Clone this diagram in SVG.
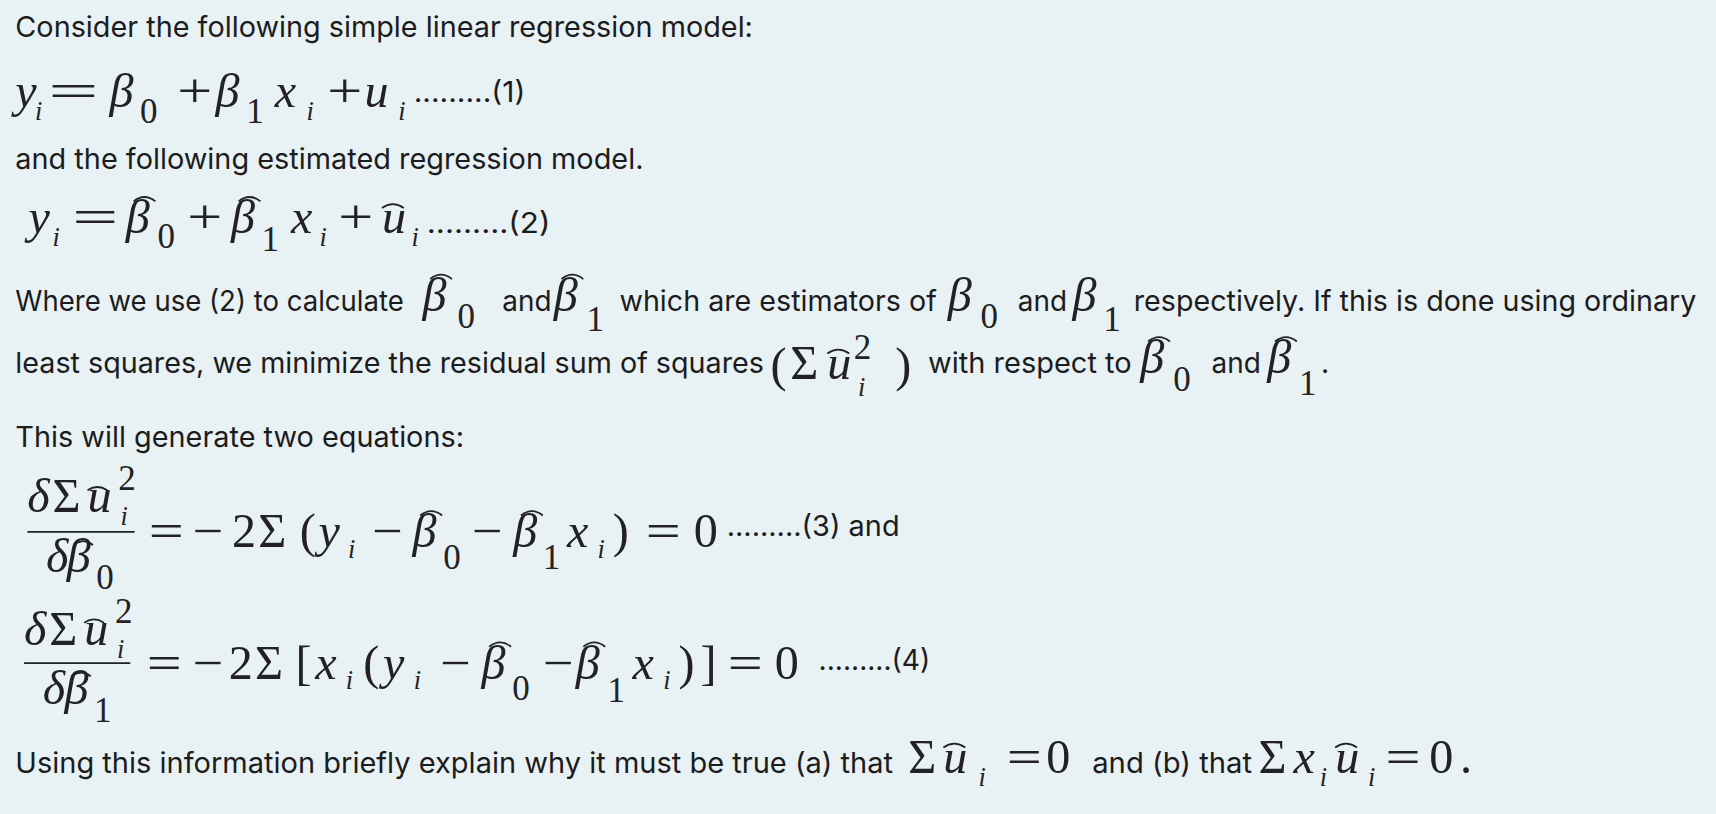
<svg xmlns="http://www.w3.org/2000/svg" width="1716" height="814" viewBox="0 0 1716 814">
<style>
.t{font-family:Inter,"Noto Sans",sans-serif;font-size:26px;fill:#1c1c1c}
.m{font-family:"Liberation Serif","DejaVu Serif",serif;font-size:44px;fill:#222;font-style:italic}
.n{font-family:"Liberation Serif","DejaVu Serif",serif;font-size:44px;fill:#222}
.s{font-family:"Liberation Serif","DejaVu Serif",serif;font-size:32px;fill:#222}
.si{font-family:"Liberation Serif","DejaVu Serif",serif;font-size:24px;fill:#222;font-style:italic}
.h{fill:none;stroke:#222;stroke-width:1.6}
</style>
<rect width="1716" height="814" fill="#e8f1f4"/>
<g transform="scale(1.0944)">
<g id="line1"><text class="t" x="14" y="34" textLength="674" lengthAdjust="spacingAndGlyphs">Consider the following simple linear regression model:</text></g>
<g id="eq1">
<text class="m" x="14" y="98">y</text><text class="si" x="32" y="110">i</text>
<text class="n" x="44" y="98" textLength="46" lengthAdjust="spacingAndGlyphs">=</text>
<text class="m" x="100" y="98">β</text><text class="s" x="128" y="112">0</text>
<text class="n" x="162" y="98" textLength="32" lengthAdjust="spacingAndGlyphs">+</text>
<text class="m" x="197" y="98">β</text><text class="s" x="225" y="112">1</text>
<text class="m" x="251" y="98">x</text><text class="si" x="280" y="110">i</text>
<text class="n" x="299" y="98" textLength="32" lengthAdjust="spacingAndGlyphs">+</text>
<text class="m" x="333" y="98">u</text><text class="si" x="364" y="110">i</text>
<text class="t" x="378" y="93" font-size="24" textLength="102" lengthAdjust="spacingAndGlyphs">.........(1)</text>
</g>
<g id="line3"><text class="t" x="14" y="154" textLength="574" lengthAdjust="spacingAndGlyphs">and the following estimated regression model.</text></g>
<g id="eq2">
<text class="m" x="26" y="213">y</text><text class="si" x="48" y="225">i</text>
<text class="n" x="66" y="213" textLength="42" lengthAdjust="spacingAndGlyphs">=</text>
<text class="m" x="115" y="213">β</text><path class="h" d="M122 184 q10 -8 20 0"/><text class="s" x="144" y="227">0</text>
<text class="n" x="171" y="213" textLength="32" lengthAdjust="spacingAndGlyphs">+</text>
<text class="m" x="211" y="213">β</text><path class="h" d="M218 184 q10 -8 20 0"/><text class="s" x="239" y="229">1</text>
<text class="m" x="266" y="213">x</text><text class="si" x="292" y="225">i</text>
<text class="n" x="309" y="213" textLength="32" lengthAdjust="spacingAndGlyphs">+</text>
<text class="m" x="349" y="213">u</text><path class="h" d="M349 190 q10 -7 20 0"/><text class="si" x="376" y="225">i</text>
<text class="t" x="390" y="213" font-size="24" textLength="113" lengthAdjust="spacingAndGlyphs">.........(2)</text>
</g>
<g id="line5">
<text class="t" x="14" y="284" textLength="355" lengthAdjust="spacingAndGlyphs">Where we use (2) to calculate</text>
<text class="m" x="386" y="284">β</text><path class="h" d="M393 255 q10 -8 20 0"/><text class="s" x="418" y="300">0</text>
<text class="t" x="459" y="284" textLength="45" lengthAdjust="spacingAndGlyphs">and</text>
<text class="m" x="506" y="284">β</text><path class="h" d="M513 255 q10 -8 20 0"/><text class="s" x="536" y="302">1</text>
<text class="t" x="566" y="284" textLength="290" lengthAdjust="spacingAndGlyphs">which are estimators of</text>
<text class="m" x="866" y="284">β</text><text class="s" x="896" y="300">0</text>
<text class="t" x="930" y="284" textLength="45" lengthAdjust="spacingAndGlyphs">and</text>
<text class="m" x="980" y="284">β</text><text class="s" x="1008" y="302">1</text>
<text class="t" x="1036" y="284" textLength="514" lengthAdjust="spacingAndGlyphs">respectively. If this is done using ordinary</text>
</g>
<g id="line6">
<text class="t" x="14" y="341" textLength="684" lengthAdjust="spacingAndGlyphs">least squares, we minimize the residual sum of squares</text>
<text class="n" x="704" y="348" font-size="48">(</text>
<text class="n" x="722" y="346">Σ</text>
<text class="m" x="756" y="346">u</text><path class="h" d="M756 323 q10 -7 20 0"/>
<text class="s" x="780" y="328" font-size="30">2</text><text class="si" x="784" y="362">i</text>
<text class="n" x="818" y="348" font-size="48">)</text>
<text class="t" x="848" y="341" textLength="186" lengthAdjust="spacingAndGlyphs">with respect to</text>
<text class="m" x="1042" y="341">β</text><path class="h" d="M1049 312 q10 -8 20 0"/><text class="s" x="1072" y="357">0</text>
<text class="t" x="1107" y="341" textLength="45" lengthAdjust="spacingAndGlyphs">and</text>
<text class="m" x="1158" y="341">β</text><path class="h" d="M1165 312 q10 -8 20 0"/><text class="s" x="1187" y="361">1</text>
<text class="t" x="1207" y="341">.</text>
</g>
<g id="line7"><text class="t" x="14" y="408" textLength="410" lengthAdjust="spacingAndGlyphs">This will generate two equations:</text></g>
<g id="eq3">
<text class="m" x="25" y="468" font-size="38">δ</text><text class="n" x="48" y="468" font-size="38">Σ</text><text class="m" x="80" y="468" font-size="38">u</text><path class="h" d="M80 448 q9 -6 18 0"/>
<text class="s" x="108" y="448" font-size="24">2</text><text class="si" x="110" y="480" font-size="18">i</text>
<line x1="25" y1="486" x2="123" y2="486" stroke="#222" stroke-width="1.6"/>
<text class="m" x="42" y="523" font-size="38">δ</text><text class="m" x="61" y="523" font-size="38">β</text><path class="h" d="M67 498 q9 -7 18 0"/><text class="s" x="88" y="538" font-size="28">0</text>
<text class="n" x="136" y="500" textLength="32" lengthAdjust="spacingAndGlyphs">=</text>
<text class="n" x="176" y="500" textLength="28" lengthAdjust="spacingAndGlyphs">−</text>
<text class="n" x="212" y="500">2</text><text class="n" x="236" y="500">Σ</text><text class="n" x="274" y="500">(</text>
<text class="m" x="291" y="500">y</text><text class="si" x="318" y="510">i</text>
<text class="n" x="340" y="500" textLength="28" lengthAdjust="spacingAndGlyphs">−</text>
<text class="m" x="377" y="500">β</text><path class="h" d="M384 471 q10 -8 20 0"/><text class="s" x="405" y="520">0</text>
<text class="n" x="431" y="500" textLength="28" lengthAdjust="spacingAndGlyphs">−</text>
<text class="m" x="469" y="500">β</text><path class="h" d="M476 471 q10 -8 20 0"/><text class="s" x="496" y="520">1</text>
<text class="m" x="518" y="500">x</text><text class="si" x="546" y="510">i</text>
<text class="n" x="560" y="500">)</text>
<text class="n" x="590" y="500" textLength="32" lengthAdjust="spacingAndGlyphs">=</text>
<text class="n" x="634" y="500">0</text>
<text class="t" x="664" y="490" textLength="158" lengthAdjust="spacingAndGlyphs">.........(3) and</text>
</g>
<g id="eq4">
<text class="m" x="22" y="589" font-size="38">δ</text><text class="n" x="45" y="589" font-size="38">Σ</text><text class="m" x="77" y="589" font-size="38">u</text><path class="h" d="M77 569 q9 -6 18 0"/>
<text class="s" x="105" y="569" font-size="24">2</text><text class="si" x="107" y="601" font-size="18">i</text>
<line x1="22" y1="606" x2="119" y2="606" stroke="#222" stroke-width="1.6"/>
<text class="m" x="39" y="643" font-size="38">δ</text><text class="m" x="59" y="643" font-size="38">β</text><path class="h" d="M65 618 q9 -7 18 0"/><text class="s" x="86" y="660" font-size="28">1</text>
<text class="n" x="134" y="620" textLength="32" lengthAdjust="spacingAndGlyphs">=</text>
<text class="n" x="176" y="620" textLength="28" lengthAdjust="spacingAndGlyphs">−</text>
<text class="n" x="209" y="620">2</text><text class="n" x="233" y="620">Σ</text><text class="n" x="270" y="620">[</text>
<text class="m" x="288" y="620">x</text><text class="si" x="316" y="630">i</text>
<text class="n" x="332" y="620">(</text>
<text class="m" x="350" y="620">y</text><text class="si" x="378" y="630">i</text>
<text class="n" x="402" y="620" textLength="28" lengthAdjust="spacingAndGlyphs">−</text>
<text class="m" x="440" y="620">β</text><path class="h" d="M447 591 q10 -8 20 0"/><text class="s" x="468" y="640">0</text>
<text class="n" x="496" y="620" textLength="28" lengthAdjust="spacingAndGlyphs">−</text>
<text class="m" x="526" y="620">β</text><path class="h" d="M533 591 q10 -8 20 0"/><text class="s" x="555" y="641">1</text>
<text class="m" x="578" y="620">x</text><text class="si" x="606" y="630">i</text>
<text class="n" x="620" y="620">)</text><text class="n" x="640" y="620">]</text>
<text class="n" x="665" y="620" textLength="32" lengthAdjust="spacingAndGlyphs">=</text>
<text class="n" x="708" y="620">0</text>
<text class="t" x="748" y="612" font-size="24" textLength="102" lengthAdjust="spacingAndGlyphs">.........(4)</text>
</g>
<g id="line10">
<text class="t" x="14" y="706" textLength="802" lengthAdjust="spacingAndGlyphs">Using this information briefly explain why it must be true (a) that</text>
<text class="n" x="830" y="706">Σ</text>
<text class="m" x="862" y="706">u</text><path class="h" d="M862 683 q10 -7 20 0"/><text class="si" x="894" y="718">i</text>
<text class="n" x="920" y="706" textLength="32" lengthAdjust="spacingAndGlyphs">=</text>
<text class="n" x="956" y="706">0</text>
<text class="t" x="998" y="706" textLength="146" lengthAdjust="spacingAndGlyphs">and (b) that</text>
<text class="n" x="1150" y="706">Σ</text>
<text class="m" x="1182" y="706">x</text><text class="si" x="1206" y="718">i</text>
<text class="m" x="1220" y="706">u</text><path class="h" d="M1220 683 q10 -7 20 0"/><text class="si" x="1250" y="718">i</text>
<text class="n" x="1266" y="706" textLength="32" lengthAdjust="spacingAndGlyphs">=</text>
<text class="n" x="1306" y="706">0</text><text class="n" x="1334" y="706">.</text>
</g>
</g>
</svg>
